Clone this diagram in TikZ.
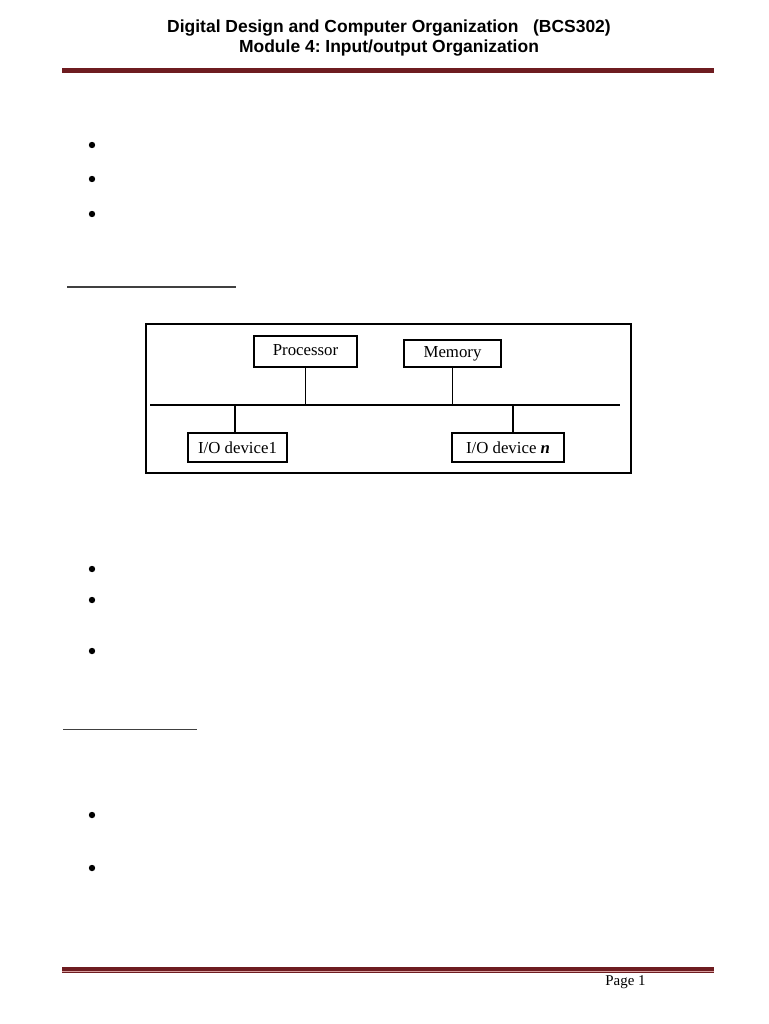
\documentclass[tikz,border=0pt]{standalone}
\usepackage{fontspec}
\setmainfont{Liberation Serif}
\newfontfamily\hdrfont{Liberation Sans}
\definecolor{rulered}{RGB}{110,28,32}
\definecolor{rulepink}{RGB}{215,160,160}
\frenchspacing
\begin{document}
\begin{tikzpicture}[x=0.75pt,y=-0.75pt,
  hdr/.style={font=\hdrfont\bfseries\fontsize{13.1}{15}\selectfont, inner sep=0pt},
  blk/.style={draw, line width=0.8pt, rectangle, inner sep=0pt, font=\fontsize{12.6}{14}\selectfont},
  wire/.style={line width=0.8pt},
  bul/.style={circle, fill=black, inner sep=0pt, minimum size=4.8pt},
  uline/.style={line width=1pt, black!75}]
\useasboundingbox (0,0) rectangle (768,1024);
% header
\node[hdr] (h1) at (389,28) {Digital Design and Computer Organization~~~(BCS302)};
\node[hdr] (h2) at (389,48) {Module 4: Input/output Organization};
\fill[rulered] (62,68.5) rectangle (714,73.5);
% footer
\fill[rulered] (62,966.5) rectangle (714,970.5);
\fill[rulepink] (62,970.5) rectangle (714,971.7);
\fill[rulered] (62,971.7) rectangle (714,972.8);
\node[font=\fontsize{11.2}{13}\selectfont, inner sep=0pt] (pg) at (625.5,982) {Page 1};
% bullets
\node[bul] (b1) at (92,145) {};
\node[bul] (b2) at (92,179) {};
\node[bul] (b3) at (92,214) {};
\node[bul] (b4) at (92,569) {};
\node[bul] (b5) at (92,600) {};
\node[bul] (b6) at (92,651) {};
\node[bul] (b7) at (92,815) {};
\node[bul] (b8) at (92,868) {};
% underlines
\draw[uline] (67,287) -- (236,287);
\draw[uline] (63,729.5) -- (197,729.5);
% diagram
\node[draw, line width=0.9pt, minimum width=485*0.75pt, minimum height=149*0.75pt, inner sep=0pt] (frame) at (388.5,398.5) {};
\node[blk, minimum width=103*0.75pt, minimum height=31*0.75pt] (proc) at (305.5,351.5) {\raisebox{2.5pt}{Processor}};
\node[blk, minimum width=97*0.75pt, minimum height=27*0.75pt] (mem) at (452.5,353.5) {\raisebox{1.5pt}{Memory}};
\node[blk, minimum width=99*0.75pt, minimum height=29*0.75pt] (io1) at (237.5,447.5) {I/O device1};
\node[blk, minimum width=112*0.75pt, minimum height=29*0.75pt] (ion) at (508,447.5) {I/O device \textbf{\textit{n}}};
\coordinate (busL) at (150,405);
\coordinate (busR) at (620,405);
\draw[wire] (busL) -- (busR);
\draw[wire] (proc.south) -- (proc.south |- busL);
\draw[line width=1.3pt] (mem.south) -- (mem.south |- busL);
\draw[wire] (io1.north -| 235,0) -- (235,405);
\draw[wire] (ion.north -| 513,0) -- (513,405);
\end{tikzpicture}
\end{document}
